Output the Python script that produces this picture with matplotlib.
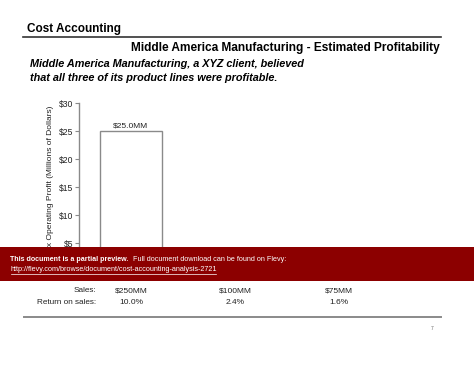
import matplotlib
matplotlib.use("Agg")
import matplotlib.pyplot as plt
import matplotlib.transforms as mtransforms
from matplotlib.patches import Rectangle
from matplotlib.lines import Line2D

plt.rcParams['font.family'] = ['Liberation Sans', 'DejaVu Sans']

# data
products = ['Product 1', 'Product 2', 'Product 3']
profit = [25.0, 2.4, 1.2]          # $MM
profit_labels = ['$25.0MM', '$2.4MM', '$1.2MM']
sales = ['$250MM', '$100MM', '$75MM']
ros = ['10.0%', '2.4%', '1.6%']
yticks = [5, 10, 15, 20, 25, 30]
ytick_labels = ['$5', '$10', '$15', '$20', '$25', '$30']

W, H = 474, 366
fig = plt.figure(figsize=(W / 100, H / 100), dpi=100)


def fx(x):
    return x / W


def fy(y):
    return 1 - y / H


# chart area
ax = fig.add_axes([fx(79), fy(271), fx(391) - fx(79), fy(103) - fy(271)])
x = range(len(products))
ax.bar(x, profit, width=0.6, color='white', edgecolor='#8a8a8a', linewidth=1.0)
for i, v in enumerate(profit):
    ax.text(i, v + 0.2, profit_labels[i], ha='center', va='bottom', fontsize=6.0, color='#222222')
ax.set_xlim(-0.5, 2.5)
ax.set_ylim(0, 30)
ax.set_yticks(yticks)
ax.set_yticklabels(ytick_labels)
ax.set_xticks([])
for s in ['top', 'right', 'bottom']:
    ax.spines[s].set_visible(False)
ax.spines['left'].set_color('#8a8a8a')
ax.spines['left'].set_linewidth(1.0)
ax.tick_params(axis='y', length=3, width=0.8, color='#8a8a8a', labelsize=6.2,
               labelcolor='#222222', pad=1)
fig.text(fx(50.5), fy(187), 'Pre-tax Operating Profit (Millions of Dollars)', rotation=90,
         ha='center', va='center', fontsize=6.0, color='#222222')

# headers
fig.text(fx(27), fy(29), 'Cost Accounting', ha='left', va='center', fontsize=8.5,
         fontweight='bold', color='black')
fig.add_artist(Line2D([fx(23), fx(441)], [fy(36.5), fy(36.5)], color='#333333', linewidth=1.2))
fig.text(fx(440), fy(47.5), 'Middle America Manufacturing - Estimated Profitability',
         ha='right', va='center', fontsize=8.55, fontweight='bold', color='black')
fig.text(fx(30), fy(64), 'Middle America Manufacturing, a XYZ client, believed',
         ha='left', va='center', fontsize=7.85, fontweight='bold', style='italic', color='black')
fig.text(fx(30), fy(78), 'that all three of its product lines were profitable.',
         ha='left', va='center', fontsize=7.85, fontweight='bold', style='italic', color='black')

# table below chart
tr = mtransforms.blended_transform_factory(ax.transData, fig.transFigure)
fig.text(fx(96), fy(291), 'Sales:', ha='right', va='center', fontsize=5.9, color='#222222')
fig.text(fx(96), fy(302.5), 'Return on sales:', ha='right', va='center', fontsize=5.9, color='#222222')
for i in x:
    ax.text(i, fy(291), sales[i], transform=tr, ha='center', va='center', fontsize=6.0,
            color='#222222', clip_on=False)
    ax.text(i, fy(302.5), ros[i], transform=tr, ha='center', va='center', fontsize=6.0,
            color='#222222', clip_on=False)
fig.add_artist(Line2D([fx(24), fx(441)], [fy(316.5), fy(316.5)], color='#8a8a8a', linewidth=1.4))
fig.text(fx(432), fy(328), '7', ha='center', va='center', fontsize=3.5, color='#666666')

# preview banner
fig.add_artist(Rectangle((0, fy(281)), 1, fy(247) - fy(281), transform=fig.transFigure,
                         facecolor='#8c0000', edgecolor='none', zorder=5))
fig.text(fx(10.5), fy(259.5), 'This document is a partial preview.', ha='left', va='center',
         fontsize=5.15, fontweight='bold', color='white', zorder=6)
fig.text(fx(133), fy(259.5), 'Full document download can be found on Flevy:', ha='left',
         va='center', fontsize=5.25, color='white', zorder=6)
fig.text(fx(10.5), fy(269.5), 'http://flevy.com/browse/document/cost-accounting-analysis-2721',
         ha='left', va='center', fontsize=5.2, color='white', zorder=6)
fig.add_artist(Line2D([fx(10.5), fx(216)], [fy(273.5), fy(273.5)], color='white',
                      linewidth=0.5, zorder=6))

fig.savefig('out.png', dpi=100)
